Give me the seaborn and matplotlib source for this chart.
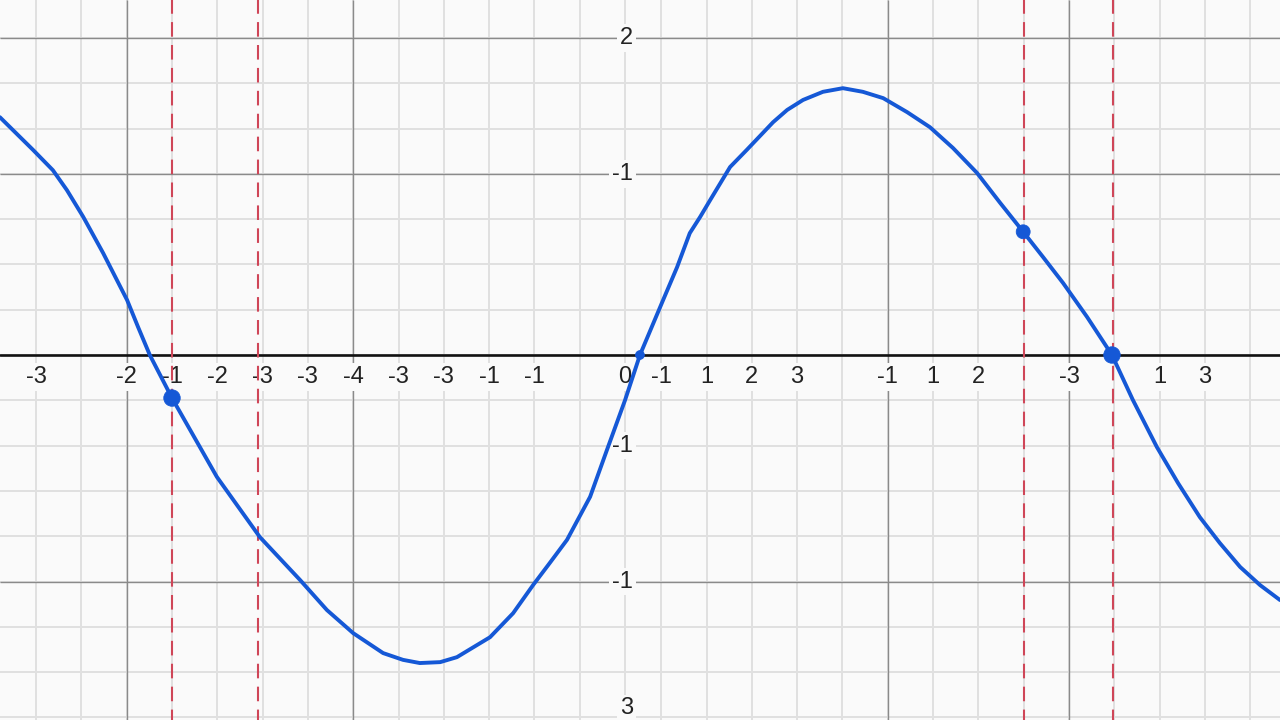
import numpy as np
import pandas as pd
import matplotlib
matplotlib.use("Agg")
import matplotlib.pyplot as plt
import seaborn as sns

# ---- data (grid units) ----
curve_x = [-13.80, -13.07, -12.63, -12.32, -11.96, -11.74, -11.52, -10.99,
           -10.75, -10.49, -10.00, -9.01, -8.06, -7.17, -6.58, -6.00, -5.34, -4.90,
           -4.53, -4.08, -3.71, -2.98, -2.47, -2.03, -1.66, -1.28, -0.77, -0.40,
           0.00, 0.33, 0.84, 1.15, 1.43, 1.66, 1.88, 2.32, 2.69, 3.27,
           3.58, 3.93, 4.37, 4.81, 5.25, 5.70, 6.23, 6.73, 7.24, 7.77,
           8.28, 8.79, 9.23, 9.67, 10.20, 10.75, 11.21, 11.74, 12.21, 12.69,
           13.13, 13.58, 14.02, 14.46]
curve_y = [5.25, 4.53, 4.08, 3.64, 3.05, 2.65, 2.25, 1.21,
           0.62, 0.00, -0.95, -2.69, -4.02, -4.97, -5.63, -6.14, -6.58, -6.73,
           -6.80, -6.78, -6.67, -6.23, -5.70, -5.08, -4.59, -4.08, -3.13, -2.10,
           -1.00, 0.00, 1.21, 1.94, 2.69, 3.05, 3.42, 4.15, 4.53, 5.14,
           5.41, 5.63, 5.81, 5.89, 5.81, 5.67, 5.36, 5.03, 4.57, 4.02,
           3.36, 2.72, 2.16, 1.59, 0.84, 0.00, -0.99, -2.03, -2.83, -3.58,
           -4.15, -4.68, -5.08, -5.41]

point_x = [-10.00, 0.33, 8.79, 10.75]
point_y = [-0.95, 0.00, 2.72, 0.00]
point_kind = ["big", "small", "mid", "big"]

guide_x = [-10.0, -8.1, 8.8, 10.77]

xtick_pos = [-13, -11, -10, -9, -8, -7, -6, -5, -4, -3, -2, 0,
             0.8, 1.8, 2.8, 3.8, 5.8, 6.8, 7.8, 9.8, 11.8, 12.8]
xtick_text = ["-3", "-2", "-1", "-2", "-3", "-3", "-4", "-3", "-3", "-1", "-1", "0",
              "-1", "1", "2", "3", "-1", "1", "2", "-3", "1", "3"]
ytick_pos = [7, 4, -2, -5, -7.8]
ytick_text = ["2", "-1", "-1", "-1", "3"]

# grid layout (style)
minor_vx = list(np.arange(-13, 1)) + list(np.arange(0, 14) + 0.8)
major_vx = [-11, -6, 5.8, 9.8]
minor_hy = list(np.arange(-8, 8))
major_hy = [7, 4, -5]

sns.set_theme(style="white")
plt.rcParams['font.family'] = ['Liberation Sans', 'DejaVu Sans']

PX = 45.3
fig = plt.figure(figsize=(12.8, 7.2), dpi=100)
fig.patch.set_facecolor("#fafafa")
ax = fig.add_axes([0, 0, 1, 1])
ax.set_facecolor("#fafafa")
ax.set_xlim(-625 / PX, 655 / PX)
ax.set_ylim(-365 / PX, 355 / PX)
for s in ax.spines.values():
    s.set_visible(False)
ax.set_xticks([])
ax.set_yticks([])

y0, y1 = ax.get_ylim()
x0, x1 = ax.get_xlim()
ax.vlines(minor_vx, y0, y1, colors="#e0e0e0", linewidth=1.4, zorder=0)
ax.hlines(minor_hy, x0, x1, colors="#e0e0e0", linewidth=1.4, zorder=0)
ax.vlines(major_vx, y0, y1, colors="#8a8a8a", linewidth=1.0, zorder=1)
ax.hlines(major_hy, x0, x1, colors="#8a8a8a", linewidth=1.0, zorder=1)
ax.axhline(0, color="#111111", linewidth=1.9, zorder=2)

box = dict(boxstyle="square,pad=0.12", facecolor="#fafafa", edgecolor="none")
for xp, t in zip(xtick_pos, xtick_text):
    ax.text(xp, -0.49, t, ha="center", va="center", fontsize=17, color="#222222",
            bbox=box, zorder=3)
for yp, t in zip(ytick_pos, ytick_text):
    ax.text(0.18, yp, t, ha="right", va="center", fontsize=17, color="#222222",
            bbox=box, zorder=3)

for gx in guide_x:
    ax.axvline(gx, color="#cf4658", linewidth=1.5, linestyle=(2, (7, 4)), zorder=4)

df = pd.DataFrame({"x": curve_x, "y": curve_y})
sns.lineplot(data=df, x="x", y="y", ax=ax, color="#1558d6", linewidth=2.8,
             sort=False, zorder=5, solid_joinstyle="round", solid_capstyle="round")

pts = pd.DataFrame({"x": point_x, "y": point_y, "kind": point_kind})
sns.scatterplot(data=pts, x="x", y="y", size="kind",
                sizes={"big": 140, "mid": 100, "small": 40},
                color="#1558d6", edgecolor="#1558d6", ax=ax, zorder=6, legend=False)

ax.set_xlabel("")
ax.set_ylabel("")
ax.set_xlim(x0, x1)
ax.set_ylim(y0, y1)
fig.savefig("out.png", dpi=100, facecolor=fig.get_facecolor())
